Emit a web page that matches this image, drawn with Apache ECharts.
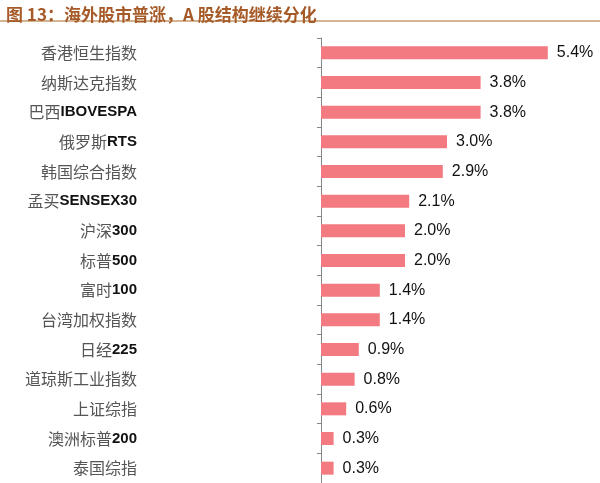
<!DOCTYPE html>
<html>
<head>
<meta charset="utf-8">
<script src="https://cdn.jsdelivr.net/npm/echarts@6/dist/echarts.min.js"></script>
<style>
  html, body { margin: 0; padding: 0; background: #fff; }
  #chart { width: 600px; height: 483px; }
</style>
</head>
<body>
<div id="chart"></div>
<script>
(function () {
  // 指数名称（自上而下）
  let indexNames = ['香港恒生指数', '纳斯达克指数', '巴西IBOVESPA', '俄罗斯RTS', '韩国综合指数',
    '孟买SENSEX30', '沪深300', '标普500', '富时100', '台湾加权指数',
    '日经225', '道琼斯工业指数', '上证综指', '澳洲标普200', '泰国综指']
  // 涨幅 %
  let changes = [5.4, 3.8, 3.8, 3.0, 2.9, 2.1, 2.0, 2.0, 1.4, 1.4, 0.9, 0.8, 0.6, 0.3, 0.3]

  let myChart = echarts.init(document.getElementById('chart'))
  let option = {
    animation: false,
    backgroundColor: '#fff',
    title: {
      text: '图 13：海外股市普涨，A 股结构继续分化',
      left: 1,
      top: 1,
      textStyle: {
        color: '#A65A28',
        fontSize: 17,
        fontWeight: 'bold',
        fontFamily: 'Noto Sans CJK SC'
      }
    },
    // 标题下方的分隔线
    graphic: [
      {
        type: 'line',
        shape: { x1: 0, y1: 21, x2: 600, y2: 21 },
        style: { stroke: '#C49A6C', lineWidth: 1.5 }
      }
    ],
    grid: {
      left: 321,
      right: 27,
      top: 38,
      bottom: -5
    },
    xAxis: {
      type: 'value',
      min: 0,
      max: 6,
      show: false
    },
    yAxis: {
      type: 'category',
      inverse: true,
      data: indexNames,
      axisLine: { show: true, lineStyle: { color: '#888', width: 1 } },
      axisTick: { show: true, length: 4, lineStyle: { color: '#888' } },
      axisLabel: {
        margin: 184,
        formatter: function (v) {
          // 中文与英文数字分开设置样式
          return v.replace(/([A-Za-z0-9]+)/g, '{b|$1}').replace(/([^{}|A-Za-z0-9]+)(?![^{]*})/g, '{c|$1}')
        },
        rich: {
          c: { fontSize: 16, color: '#555', fontFamily: 'Noto Sans CJK SC', lineHeight: 20, verticalAlign: 'middle' },
          b: { fontSize: 15, color: '#111', fontFamily: 'Liberation Sans', fontWeight: 'bold', lineHeight: 20, verticalAlign: 'middle' }
        }
      }
    },
    series: [
      {
        type: 'bar',
        data: changes,
        barWidth: 13,
        itemStyle: { color: '#F27A80' },
        label: {
          show: true,
          position: 'right',
          distance: 9,
          color: '#111',
          fontSize: 16,
          fontFamily: 'Liberation Sans',
          formatter: function (p) { return p.value.toFixed(1) + '%' }
        }
      }
    ]
  }

  myChart.setOption(option)
})();
</script>
</body>
</html>
